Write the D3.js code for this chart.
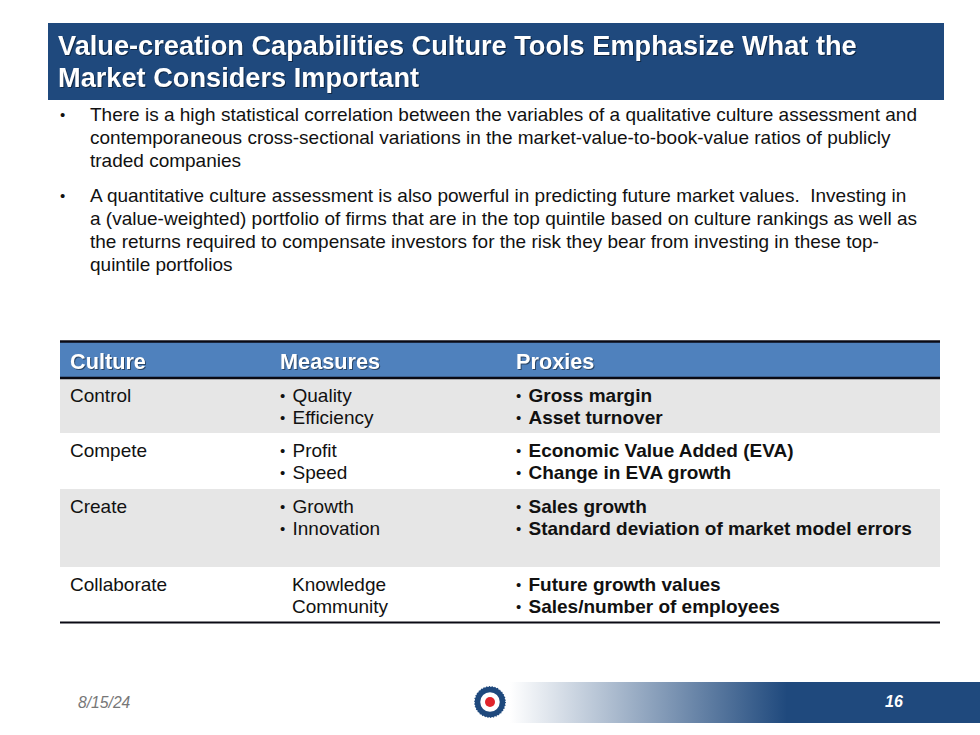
<!DOCTYPE html>
<html>
<head>
<meta charset="utf-8">
<script src="https://cdn.jsdelivr.net/npm/d3@7/dist/d3.min.js"></script>
<style>
  html, body { margin: 0; padding: 0; background: #fff; }
  svg { display: block; }
  text { font-family: "Liberation Sans", Arial, sans-serif; }
  .title, .head { filter: drop-shadow(1px 1px 0.6px rgba(0,0,0,0.45)); }
</style>
</head>
<body>
<div id="slide"></div>
<script>
var titleLines = ["Value-creation Capabilities Culture Tools Emphasize What the", "Market Considers Important"];
var bullets = [
  ["There is a high statistical correlation between the variables of a qualitative culture assessment and",
   "contemporaneous cross-sectional variations in the market-value-to-book-value ratios of publicly",
   "traded companies"],
  ["A quantitative culture assessment is also powerful in predicting future market values.  Investing in",
   "a (value-weighted) portfolio of firms that are in the top quintile based on culture rankings as well as",
   "the returns required to compensate investors for the risk they bear from investing in these top-",
   "quintile portfolios"]
];
var columns = ["Culture", "Measures", "Proxies"];
var cultures = ["Control", "Compete", "Create", "Collaborate"];
var measures = [["Quality", "Efficiency"], ["Profit", "Speed"], ["Growth", "Innovation"], ["Knowledge", "Community"]];
var measureBullets = [true, true, true, false];
var proxies = [
  ["Gross margin", "Asset turnover"],
  ["Economic Value Added (EVA)", "Change in EVA growth"],
  ["Sales growth", "Standard deviation of market model errors"],
  ["Future growth values", "Sales/number of employees"]
];
var rowShade = [true, false, true, false];
var rowTops = [378, 433, 489, 567];
var rowBottoms = [433, 489, 567, 622];
var dateLabel = "8/15/24";
var pageLabel = "16";

var width = 980, height = 735;
var svg = d3.select("#slide").append("svg").attr("width", width).attr("height", height);
var defs = svg.append("defs");

// footer fade
var grad = defs.append("linearGradient").attr("id", "fade");
grad.append("stop").attr("offset", "0%").attr("stop-color", "#ffffff");
grad.append("stop").attr("offset", "100%").attr("stop-color", "#1f497d");

// title
svg.append("rect").attr("x", 48).attr("y", 23).attr("width", 896).attr("height", 77).attr("fill", "#1f497d");
svg.selectAll(".title").data(titleLines).enter().append("text")
    .attr("class", "title")
    .attr("x", 58)
    .attr("y", function(d, i) { return 55 + i * 32; })
    .attr("font-size", 27.2)
    .attr("font-weight", "bold")
    .attr("fill", "#fff")
    .text(function(d) { return d; });

// bullets
var bulletTops = [121, 202];
bullets.forEach(function(lines, b) {
  svg.append("text").attr("x", 60).attr("y", bulletTops[b] - 1).attr("font-size", 15).attr("fill", "#111").text("•");
  svg.selectAll(".b" + b).data(lines).enter().append("text")
      .attr("class", "b" + b)
      .attr("x", 90)
      .attr("y", function(d, i) { return bulletTops[b] + i * 23; })
      .attr("font-size", 19)
      .attr("fill", "#111")
      .style("white-space", "pre")
      .text(function(d) { return d; });
});

// table
var x = d3.scaleOrdinal().domain(columns).range([70, 280, 516]);
var tableLeft = 60, tableRight = 940;

svg.append("rect").attr("x", tableLeft).attr("y", 342).attr("width", tableRight - tableLeft).attr("height", 36).attr("fill", "#4f81bd");
svg.selectAll(".head").data(columns).enter().append("text")
    .attr("class", "head")
    .attr("x", function(d) { return x(d); })
    .attr("y", 369)
    .attr("font-size", 21.7)
    .attr("font-weight", "bold")
    .attr("fill", "#fff")
    .text(function(d) { return d; });

svg.selectAll(".shade").data(cultures.filter(function(d, i) { return rowShade[i]; })).enter().append("rect")
    .attr("class", "shade")
    .attr("x", tableLeft)
    .attr("y", function(d) { return rowTops[cultures.indexOf(d)]; })
    .attr("width", tableRight - tableLeft)
    .attr("height", function(d) { var i = cultures.indexOf(d); return rowBottoms[i] - rowTops[i]; })
    .attr("fill", "#e6e6e6");

[[341.5, 2.5], [378, 2.5], [622.5, 2]].forEach(function(r) {
  svg.append("line").attr("x1", tableLeft).attr("x2", tableRight).attr("y1", r[0]).attr("y2", r[0])
      .attr("stroke", "#0a0a14").attr("stroke-width", r[1]);
});

var rows = svg.selectAll(".row").data(cultures).enter().append("g")
    .attr("class", "row")
    .attr("transform", function(d, i) { return "translate(0," + rowTops[i] + ")"; });

rows.append("text")
    .attr("x", x("Culture"))
    .attr("y", 23.5)
    .attr("font-size", 19)
    .attr("fill", "#111")
    .text(function(d) { return d; });

rows.each(function(d, i) {
  var g = d3.select(this);
  measures[i].forEach(function(m, j) {
    var yy = 23.5 + j * 22.5;
    if (measureBullets[i]) {
      g.append("text").attr("x", x("Measures")).attr("y", yy - 1).attr("font-size", 15).attr("fill", "#111").text("•");
    }
    g.append("text").attr("x", x("Measures") + (measureBullets[i] ? 12.5 : 12)).attr("y", yy).attr("font-size", 19).attr("fill", "#111").text(m);
  });
  proxies[i].forEach(function(p, j) {
    var yy = 23.5 + j * 22.5;
    g.append("text").attr("x", x("Proxies")).attr("y", yy - 1).attr("font-size", 15).attr("fill", "#111").text("•");
    g.append("text").attr("x", x("Proxies") + 12.5).attr("y", yy).attr("font-size", 19).attr("font-weight", "bold").attr("fill", "#111").text(p);
  });
});

// footer
svg.append("rect").attr("x", 510).attr("y", 682).attr("width", 277).attr("height", 41).attr("fill", "url(#fade)");
svg.append("rect").attr("x", 786).attr("y", 682).attr("width", 194).attr("height", 41).attr("fill", "#1f497d");
svg.append("text").attr("x", 78).attr("y", 708).attr("font-size", 15.7).attr("font-style", "italic").attr("fill", "#777").text(dateLabel);
svg.append("text").attr("x", 885).attr("y", 707).attr("font-size", 16).attr("font-style", "italic").attr("font-weight", "bold").attr("fill", "#fff").text(pageLabel);

// roundel
var roundel = svg.append("g").attr("transform", "translate(490,702)");
roundel.append("circle").attr("r", 12.5).attr("fill", "#fff").attr("stroke", "#1f497d").attr("stroke-width", 5.5);
roundel.append("circle").attr("r", 15.2).attr("fill", "none").attr("stroke", "#1f497d").attr("stroke-width", 1.4).attr("stroke-dasharray", "1.2 1.6");
roundel.append("circle").attr("r", 5).attr("fill", "#e0242c");
</script>
</body>
</html>
